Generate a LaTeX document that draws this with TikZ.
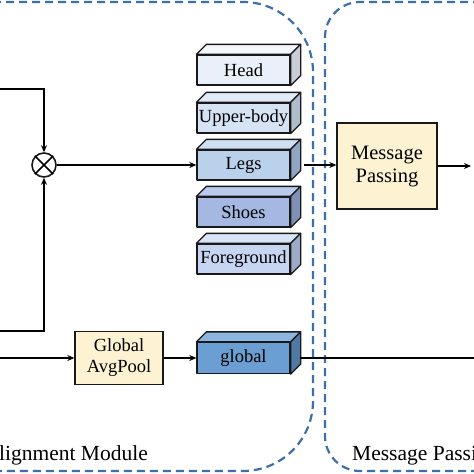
\documentclass[tikz,border=0pt]{standalone}
\usepackage{fontspec}
\setmainfont{Liberation Serif}
\usepackage{tikz}
\usetikzlibrary{arrows.meta}

\definecolor{dashblue}{HTML}{3E6FA8}
\definecolor{poolfill}{HTML}{FDF3D3}

\newcommand{\cubefaces}[3]{%
  \draw[cubeline,fill=#2] (#1.north west) -- ++(10,-10) -- ([shift={(10,-10)}]#1.north east) -- (#1.north east) -- cycle;
  \draw[cubeline,fill=#3] (#1.north east) -- ++(10,-10) -- ([shift={(10,-10)}]#1.south east) -- (#1.south east) -- cycle;
}

\begin{document}
\begin{tikzpicture}[x=1pt,y=-1pt,
    cubeline/.style={draw=black!90,line width=1.3pt,line join=round},
    part/.style={cubeline,minimum width=93pt,minimum height=30pt,inner sep=0pt,font=\fontsize{18.5}{20}\selectfont},
    opbox/.style={draw=black!90,line width=1.3pt,fill=poolfill,align=center,inner sep=0pt},
    arr/.style={line width=1.6pt,-{Stealth[length=7pt,width=6pt]}},
    modline/.style={dashblue,line width=2.2pt,dash pattern=on 8pt off 5pt},
    modlabel/.style={inner sep=0pt,font=\fontsize{21.5}{24}\selectfont}]
    \useasboundingbox (0,0) rectangle (474,474);
    \clip (0,0) rectangle (474,474);

    % Module frames
    \draw[modline,rounded corners=70pt] (-20,2) -- (313,2) -- (313,471) -- (-20,471);
    \draw[modline,rounded corners=35pt] (494,2) -- (325,2) -- (325,471) -- (494,471);
    \node[modlabel,anchor=base east] (alignlbl) at (148,460) {Alignment Module};
    \node[modlabel,anchor=base west] (mplbl) at (352,460) {Message Passing};

    % Part features
    \node[part,fill={rgb,255:red,233;green,240;blue,250}] (head) at (243.5,70) {Head};
    \node[part,fill={rgb,255:red,213;green,227;blue,244}] (upper) at (243.5,118) {Upper-body};
    \node[part,fill={rgb,255:red,186;green,209;blue,236}] (legs) at (243.5,165) {Legs};
    \node[part,fill={rgb,255:red,164;green,184;blue,226}] (shoes) at (243.5,212) {Shoes};
    \node[part,fill={rgb,255:red,198;green,214;blue,242}] (fore) at (243.5,259) {Foreground};
    \node[part,fill={rgb,255:red,107;green,158;blue,210},minimum height=31pt] (glob) at (243.5,358) {global};
    \cubefaces{head}{{rgb,255:red,243;green,247;blue,252}}{{rgb,255:red,200;green,205;blue,214}}
    \cubefaces{upper}{{rgb,255:red,226;green,236;blue,248}}{{rgb,255:red,175;green,188;blue,204}}
    \cubefaces{legs}{{rgb,255:red,207;green,224;blue,243}}{{rgb,255:red,144;green,166;blue,194}}
    \cubefaces{shoes}{{rgb,255:red,186;green,202;blue,236}}{{rgb,255:red,127;green,144;blue,181}}
    \cubefaces{fore}{{rgb,255:red,216;green,228;blue,247}}{{rgb,255:red,156;green,172;blue,200}}
    \cubefaces{glob}{{rgb,255:red,140;green,181;blue,224}}{{rgb,255:red,79;green,120;blue,164}}

    % Operations
    \node[draw=black!90,line width=1.6pt,circle,minimum size=24pt,inner sep=0pt] (mul) at (44,165) {};
    \draw[line width=1.6pt] (mul.45) -- (mul.225) (mul.135) -- (mul.315);
    \node[opbox,minimum width=100pt,minimum height=86pt,font=\fontsize{20.5}{23}\selectfont] (mp) at (387,166) {Message\\Passing};
    \node[opbox,minimum width=88pt,minimum height=53pt,font=\fontsize{18.5}{21}\selectfont] (gap) at (119,358) {Global\\AvgPool};

    % Connections
    \coordinate (inA) at (-5,89);
    \coordinate (inB) at (-5,331);
    \coordinate (inC) at (-5,358);
    \coordinate (outM) at (471,166);
    \coordinate (outG) at (480,358);
    \draw[arr] (inA) -| (mul.north);
    \draw[arr] (inB) -| (mul.south);
    \draw[arr] (mul) -- (legs.west);
    \draw[arr] ([xshift=13pt]legs.east) -- (legs.east -| mp.west);
    \draw[arr] (mp.east |- outM) -- (outM);
    \draw[arr] (inC) -- (gap.west);
    \draw[arr] (gap.east) -- (glob.west);
    \draw[line width=1.6pt] ([xshift=9pt]glob.east) -- (outG);
\end{tikzpicture}
\end{document}
